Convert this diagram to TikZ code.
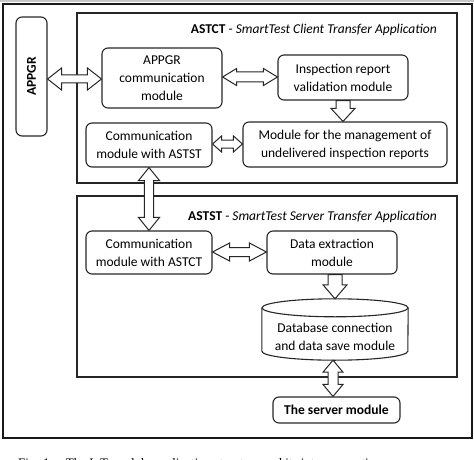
\documentclass[tikz,border=0pt]{standalone}
\usepackage{fontspec}
\setmainfont{Carlito}
\newfontfamily\capfont{Liberation Serif}
\usetikzlibrary{calc}
\newcommand\hdarrow[6]{%
 \draw[blk] let \p1=(#1), \p2=(#2), \p3=(#3) in
 (\x1,\y3) -- (\x1+#6,\y3+#5) -- (\x1+#6,\y3+#4) -- (\x2-#6,\y3+#4) -- (\x2-#6,\y3+#5) -- (\x2,\y3)
 -- (\x2-#6,\y3-#5) -- (\x2-#6,\y3-#4) -- (\x1+#6,\y3-#4) -- (\x1+#6,\y3-#5) -- cycle;}
\newcommand\vdarrow[6]{%
 \draw[blk] let \p1=(#1), \p2=(#2), \p3=(#3) in
 (\x3,\y1) -- (\x3+#5,\y1-#6) -- (\x3+#4,\y1-#6) -- (\x3+#4,\y2+#6) -- (\x3+#5,\y2+#6) -- (\x3,\y2)
 -- (\x3-#5,\y2+#6) -- (\x3-#4,\y2+#6) -- (\x3-#4,\y1-#6) -- (\x3-#5,\y1-#6) -- cycle;}
\newcommand\vsarrow[6]{%
 \draw[blk] let \p1=(#1), \p2=(#2), \p3=(#3) in
 (\x3-#4,\y1) -- (\x3+#4,\y1) -- (\x3+#4,\y2+#6) -- (\x3+#5,\y2+#6) -- (\x3,\y2)
 -- (\x3-#5,\y2+#6) -- (\x3-#4,\y2+#6) -- cycle;}
\begin{document}
\begin{tikzpicture}[x=1pt,y=-1pt,
  txt/.style={font=\fontsize{13.5}{18}\selectfont, align=center, inner sep=0pt},
  box/.style={txt, draw=black!85, line width=1.1pt, rounded corners=6pt},
  cont/.style={draw=black!85, line width=1.1pt, inner sep=0pt},
  ttl/.style={font=\fontsize{13.5}{16}\selectfont, anchor=base east, inner sep=0pt},
  blk/.style={draw=black!85, fill=white, line width=1pt, line join=miter}]
\useasboundingbox (0,0) rectangle (474,460);
\fill[black!22] (0,0) rectangle (474,2.5);
\draw[line width=2pt, black!90] (2.5,4) rectangle (471.5,438);
% left box
\node[box, minimum width=31, minimum height=119] (appgr) at (31.5,76.5) {};
\node[txt, rotate=90, font=\fontsize{13.5}{18}\selectfont\bfseries] (appgrt) at (appgr.center) {APPGR};
% ASTCT container
\node[cont, minimum width=380, minimum height=170] (astct) at (267,98) {};
\node[ttl] (astctt) at (437,34) {\textbf{ASTCT} - \textit{SmartTest Client Transfer Application}};
\node[box, minimum width=120, minimum height=60] (acm) at (162,78) {APPGR\\communication\\module};
\node[box, minimum width=130, minimum height=45] (irv) at (343,77.5) {Inspection report\\validation module};
\node[box, minimum width=204, minimum height=45] (mgmt) at (345,144.5) {Module for the management of\\undelivered inspection reports};
\node[box, minimum width=126, minimum height=44] (cma) at (149,145) {Communication\\module with ASTST};
% ASTST container
\node[cont, minimum width=380, minimum height=181] (astst) at (267,286.5) {};
\node[ttl] (asstt) at (437,220) {\textbf{ASTST} - \textit{SmartTest Server Transfer Application}};
\node[box, minimum width=126, minimum height=43] (cmc) at (149,252.5) {Communication\\module with ASTCT};
\node[box, minimum width=130, minimum height=43] (dex) at (332,252.5) {Data extraction\\module};
% database cylinder
\node[inner sep=0pt, minimum width=146, minimum height=61] (db) at (335,329.5) {};
\draw[draw=black!85, line width=1.1pt]
  (db.north) ++(0,9) ellipse[x radius=73pt, y radius=9pt];
\draw[draw=black!85, line width=1.1pt]
  let \p1=(db.north west), \p2=(db.south east) in
  (\x1,\y1-9pt) -- (\x1,\y2+9pt) arc[start angle=180, end angle=360, x radius=73pt, y radius=9pt] -- (\x2,\y1-9pt);
\node[txt] (dbt) at (335,337) {Database connection\\and data save module};
\node[box, minimum width=127, minimum height=26, font=\fontsize{13.5}{18}\selectfont\bfseries] (srv) at (336.5,410) {The server module};
% arrows
\hdarrow{appgr.east}{acm.west}{0,79}{4pt}{11pt}{14pt}
\hdarrow{acm.east}{irv.west}{0,77}{5pt}{8.5pt}{14pt}
\vsarrow{irv.south}{mgmt.north}{343,0}{7pt}{12pt}{13pt}
\hdarrow{cma.east}{mgmt.west}{0,144}{4pt}{8pt}{9pt}
\vdarrow{cma.south}{cmc.north}{149,0}{4.7pt}{10.5pt}{13pt}
\hdarrow{cmc.east}{dex.west}{0,252}{4.5pt}{9pt}{17pt}
\vsarrow{dex.south}{db.north}{335,0}{7pt}{12pt}{14pt}
\vdarrow{db.south}{srv.north}{333,0}{5pt}{10pt}{12pt}
% caption (cut off by the page edge, as in the reference)
\node[anchor=base west, inner sep=0pt, font=\capfont\fontsize{13}{15}\selectfont] (cap) at (18,467) {Fig. 1.\quad The IoT module application structure and its interconnection};
\end{tikzpicture}
\end{document}
